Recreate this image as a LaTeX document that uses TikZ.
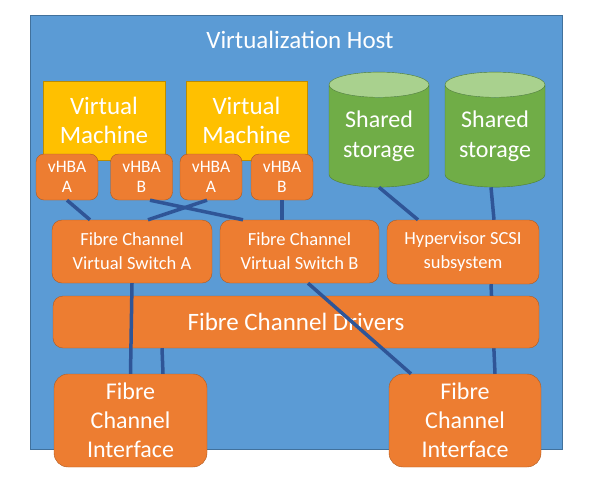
\documentclass[tikz,border=0pt]{standalone}
\usepackage{fontspec}
\setmainfont{Carlito}
\usetikzlibrary{shapes.geometric}
\definecolor{host_bg}{HTML}{5B9BD5}
\definecolor{host_line}{HTML}{41719C}
\definecolor{vm_fill}{HTML}{FFC000}
\definecolor{vm_line}{HTML}{BC8C00}
\definecolor{fc_fill}{HTML}{ED7D31}
\definecolor{fc_line}{HTML}{AE5A21}
\definecolor{disk_fill}{HTML}{70AD47}
\definecolor{disk_top}{HTML}{A9D18E}
\definecolor{disk_line}{HTML}{507E32}
\definecolor{link}{HTML}{2F5597}

\begin{document}
\begin{tikzpicture}[x=1pt, y=-1pt,
    % Stili dei blocchi
    vm_box/.style = {
        rectangle,
        fill=vm_fill,
        draw=vm_line,
        minimum width=122pt,
        minimum height=79pt,
        inner sep=0,
        text=white,
        align=center,
        font=\fontsize{25}{29}\selectfont
    },
    hba_box/.style = {
        rectangle,
        rounded corners=8pt,
        fill=fc_fill,
        draw=fc_line,
        minimum width=62pt,
        minimum height=46pt,
        inner sep=0,
        text=white,
        align=center,
        font=\fontsize{17.5}{20}\selectfont
    },
    sw_box/.style = {
        rectangle,
        rounded corners=10pt,
        fill=fc_fill,
        draw=fc_line,
        minimum width=160pt,
        minimum height=63pt,
        inner sep=0,
        text=white,
        align=center,
        font=\fontsize{18.5}{24}\selectfont
    },
    port_box/.style = {
        rectangle,
        rounded corners=14pt,
        fill=fc_fill,
        draw=fc_line,
        minimum width=153pt,
        minimum height=93pt,
        inner sep=0,
        text=white,
        align=center,
        font=\fontsize{24}{29}\selectfont
    },
    disk/.style = {
        cylinder,
        shape border rotate=90,
        aspect=0.35,
        cylinder uses custom fill,
        cylinder body fill=disk_fill,
        cylinder end fill=disk_top,
        draw=disk_line,
        minimum width=100pt,
        minimum height=115pt,
        inner sep=0,
        text=white,
        align=center,
        font=\fontsize{24}{30}\selectfont
    },
    wire/.style = {
        draw=link,
        line width=3.5pt
    }
]
\useasboundingbox (0,0) rectangle (591,483);

% 1. Sfondo dell'host
\draw[fill=host_bg, draw=host_line, line width=1pt] (30,15) rectangle (562,449);
\node[text=white, font=\fontsize{25}{29}\selectfont] (title) at (300,40) {Virtualization Host};

% 2. Macchine virtuali e vHBA
\node[vm_box] (vm1) at (104,120.5) {Virtual\\Machine};
\node[vm_box, minimum width=121pt] (vm2) at (246.5,120.5) {Virtual\\Machine};
\node[hba_box] (hba1a) at (67,177) {vHBA\\A};
\node[hba_box] (hba1b) at (141.5,177) {vHBA\\B};
\node[hba_box] (hba2a) at (211,177) {vHBA\\A};
\node[hba_box] (hba2b) at (282,177) {vHBA\\B};

% 3. Storage condiviso
\node[disk] (disk1) at (379,136) {Shared\\storage};
\node[disk] (disk2) at (495,136) {Shared\\storage};

% 4. Switch e sottosistema
\node[sw_box] (swa) at (132,251.5) {Fibre Channel\\Virtual Switch A};
\node[sw_box, minimum width=159pt] (swb) at (299.5,251.5) {Fibre Channel\\Virtual Switch B};
\node[sw_box, minimum width=152pt, minimum height=64pt] (scsi) at (463,252) {Hypervisor SCSI\\subsystem};

% 5. Interfacce fisiche
\node[port_box] (fc1) at (130.5,420.5) {Fibre\\Channel\\Interface};
\node[port_box, minimum width=152pt] (fc2) at (465,420.5) {Fibre\\Channel\\Interface};

% 6. Collegamenti superiori
\draw[wire] (hba1a.south) -- ([xshift=-42pt]swa.north);
\draw[wire] ([xshift=8.5pt]hba1b.south) -- ([xshift=-56.5pt]swb.north);
\draw[wire] ([xshift=-4pt]hba2a.south) -- ([xshift=16pt]swa.north);
\draw[wire] (hba2b.south) -- ([xshift=-17.5pt]swb.north);
\draw[wire] (disk1.south) -- ([xshift=-45pt]scsi.north);
\draw[wire] ([xshift=-4pt]disk2.south) -- ([xshift=31pt]scsi.north);

% il collegamento SCSI passa dietro ai driver
\draw[wire] ([xshift=28pt]scsi.south) -- ([xshift=30pt]fc2.north);

% 7. Driver
\node[sw_box, minimum width=486pt, minimum height=52pt, font=\fontsize{25}{29}\selectfont] (drv) at (296,322) {Fibre Channel Drivers};

% 8. Collegamenti inferiori (sopra ai driver)
\draw[wire] (swa.south) -- (fc1.north);
\draw[wire] ([xshift=-134pt]drv.south) -- ([xshift=32.5pt]fc1.north);
\draw[wire] ([xshift=8.5pt]swb.south) -- ([xshift=-54pt]fc2.north);

\end{tikzpicture}
\end{document}
